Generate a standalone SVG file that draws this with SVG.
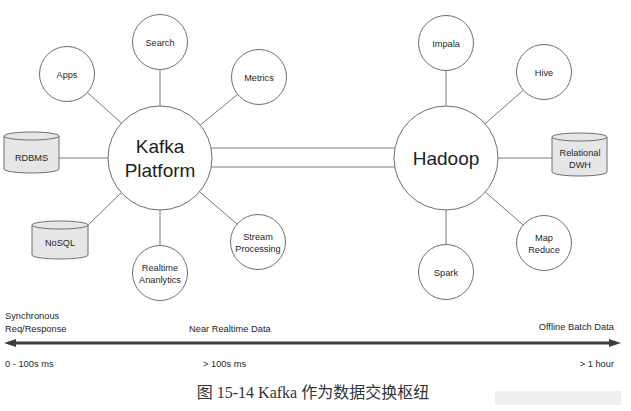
<svg xmlns="http://www.w3.org/2000/svg" width="631" height="411" viewBox="0 0 631 411">
<style>
.node{fill:#fff;stroke:#6e6e6e;stroke-width:1}
.db{fill:#e6e6e6;stroke:#6e6e6e;stroke-width:1}
.lbl{font-family:"Liberation Sans",Arial,sans-serif;font-size:9.2px;fill:#262626;text-anchor:middle}
.big{font-family:"Liberation Sans",Arial,sans-serif;font-size:19px;fill:#1e1e1e;text-anchor:middle}
.ax{font-family:"Liberation Sans",Arial,sans-serif;font-size:9.3px;fill:#262626}
.conn line{stroke:#7a7a7a;stroke-width:1}
.cap{font-family:"Liberation Serif","Noto Sans CJK SC",serif;font-size:16px;fill:#333;text-anchor:middle}
</style>
<defs>
<marker id="ah" viewBox="0 0 12 8" refX="7" refY="4" markerWidth="12" markerHeight="8" markerUnits="userSpaceOnUse" orient="auto-start-reverse">
<path d="M0,0 L12,4 L0,8 z" fill="#3c3c3c"/>
</marker>
</defs>
<rect width="631" height="411" fill="#fff"/>
<g id="connectors" class="conn">
<line x1="211" y1="148" x2="395" y2="148"/>
<line x1="211" y1="167" x2="395" y2="167"/>
<line x1="160" y1="69" x2="160" y2="106"/>
<line x1="87.4" y1="92.5" x2="121.4" y2="123.1"/>
<line x1="237.7" y1="94.4" x2="200.2" y2="125.1"/>
<line x1="59" y1="158" x2="108" y2="158"/>
<line x1="88" y1="225" x2="121" y2="193"/>
<line x1="160" y1="210" x2="160" y2="246"/>
<line x1="237.1" y1="224.1" x2="199.5" y2="191.8"/>
<line x1="446" y1="70" x2="446" y2="106"/>
<line x1="523.3" y1="90.2" x2="485.1" y2="123.7"/>
<line x1="498" y1="158" x2="552" y2="158"/>
<line x1="523.2" y1="225" x2="485.3" y2="192"/>
<line x1="446" y1="210" x2="446" y2="244.5"/>
</g>
<g id="kafka"><circle class="node" cx="160" cy="158" r="52"/><text class="big" x="160" y="153">Kafka</text><text class="big" x="160" y="177">Platform</text></g>
<g id="hadoop"><circle class="node" cx="446" cy="158" r="52"/><text class="big" x="446" y="165">Hadoop</text></g>
<g id="search"><circle class="node" cx="160" cy="42" r="27.5"/><text class="lbl" x="160" y="45.5">Search</text></g>
<g id="apps"><circle class="node" cx="67" cy="74" r="27.5"/><text class="lbl" x="67" y="77.5">Apps</text></g>
<g id="metrics"><circle class="node" cx="259" cy="77" r="27.5"/><text class="lbl" x="259" y="80.5">Metrics</text></g>
<g id="rdbms"><path class="db" d="M4,136 L4,169 A27.5,4 0 0 0 59,169 L59,136 A27.5,4 0 0 0 4,136 Z M4,136 A27.5,4 0 0 0 59,136"/><text class="lbl" x="31.5" y="161">RDBMS</text></g>
<g id="nosql"><path class="db" d="M32,225 L32,255 A28,4 0 0 0 88,255 L88,225 A28,4 0 0 0 32,225 Z M32,225 A28,4 0 0 0 88,225"/><text class="lbl" x="60" y="246">NoSQL</text></g>
<g id="realtime"><circle class="node" cx="160" cy="273" r="27.5"/><text class="lbl" x="160" y="271">Realtime</text><text class="lbl" x="160" y="282.5">Ananlytics</text></g>
<g id="stream"><circle class="node" cx="258" cy="242" r="27.5"/><text class="lbl" x="258" y="240">Stream</text><text class="lbl" x="258" y="252">Processing</text></g>
<g id="impala"><circle class="node" cx="446" cy="43" r="27.5"/><text class="lbl" x="446" y="46.5">Impala</text></g>
<g id="hive"><circle class="node" cx="544" cy="72" r="27.5"/><text class="lbl" x="544" y="75.5">Hive</text></g>
<g id="dwh"><path class="db" d="M552,137 L552,172 A27.5,4 0 0 0 607,172 L607,137 A27.5,4 0 0 0 552,137 Z M552,137 A27.5,4 0 0 0 607,137"/><text class="lbl" x="580" y="155.5">Relational</text><text class="lbl" x="580" y="167.5">DWH</text></g>
<g id="mapreduce"><circle class="node" cx="544" cy="243" r="27.5"/><text class="lbl" x="544" y="241">Map</text><text class="lbl" x="544" y="253">Reduce</text></g>
<g id="spark"><circle class="node" cx="446" cy="272" r="27.5"/><text class="lbl" x="446" y="275.5">Spark</text></g>
<g id="axis">
<line x1="9" y1="343" x2="616" y2="343" stroke="#3c3c3c" stroke-width="3" marker-start="url(#ah)" marker-end="url(#ah)"/>
<text class="ax" x="5" y="318.5">Synchronous</text>
<text class="ax" x="5" y="331.5">Req/Response</text>
<text class="ax" x="189" y="331.5">Near Realtime Data</text>
<text class="ax" x="614" y="329.5" text-anchor="end">Offline Batch Data</text>
<text class="ax" x="5" y="366.5">0 - 100s ms</text>
<text class="ax" x="203" y="366.5">&gt; 100s ms</text>
<text class="ax" x="614" y="366.5" text-anchor="end">&gt; 1 hour</text>
</g>
<rect x="495" y="391" width="126" height="14" fill="#efefef"/>
<text class="cap" x="313" y="398">图 15-14 Kafka 作为数据交换枢纽</text>
</svg>
